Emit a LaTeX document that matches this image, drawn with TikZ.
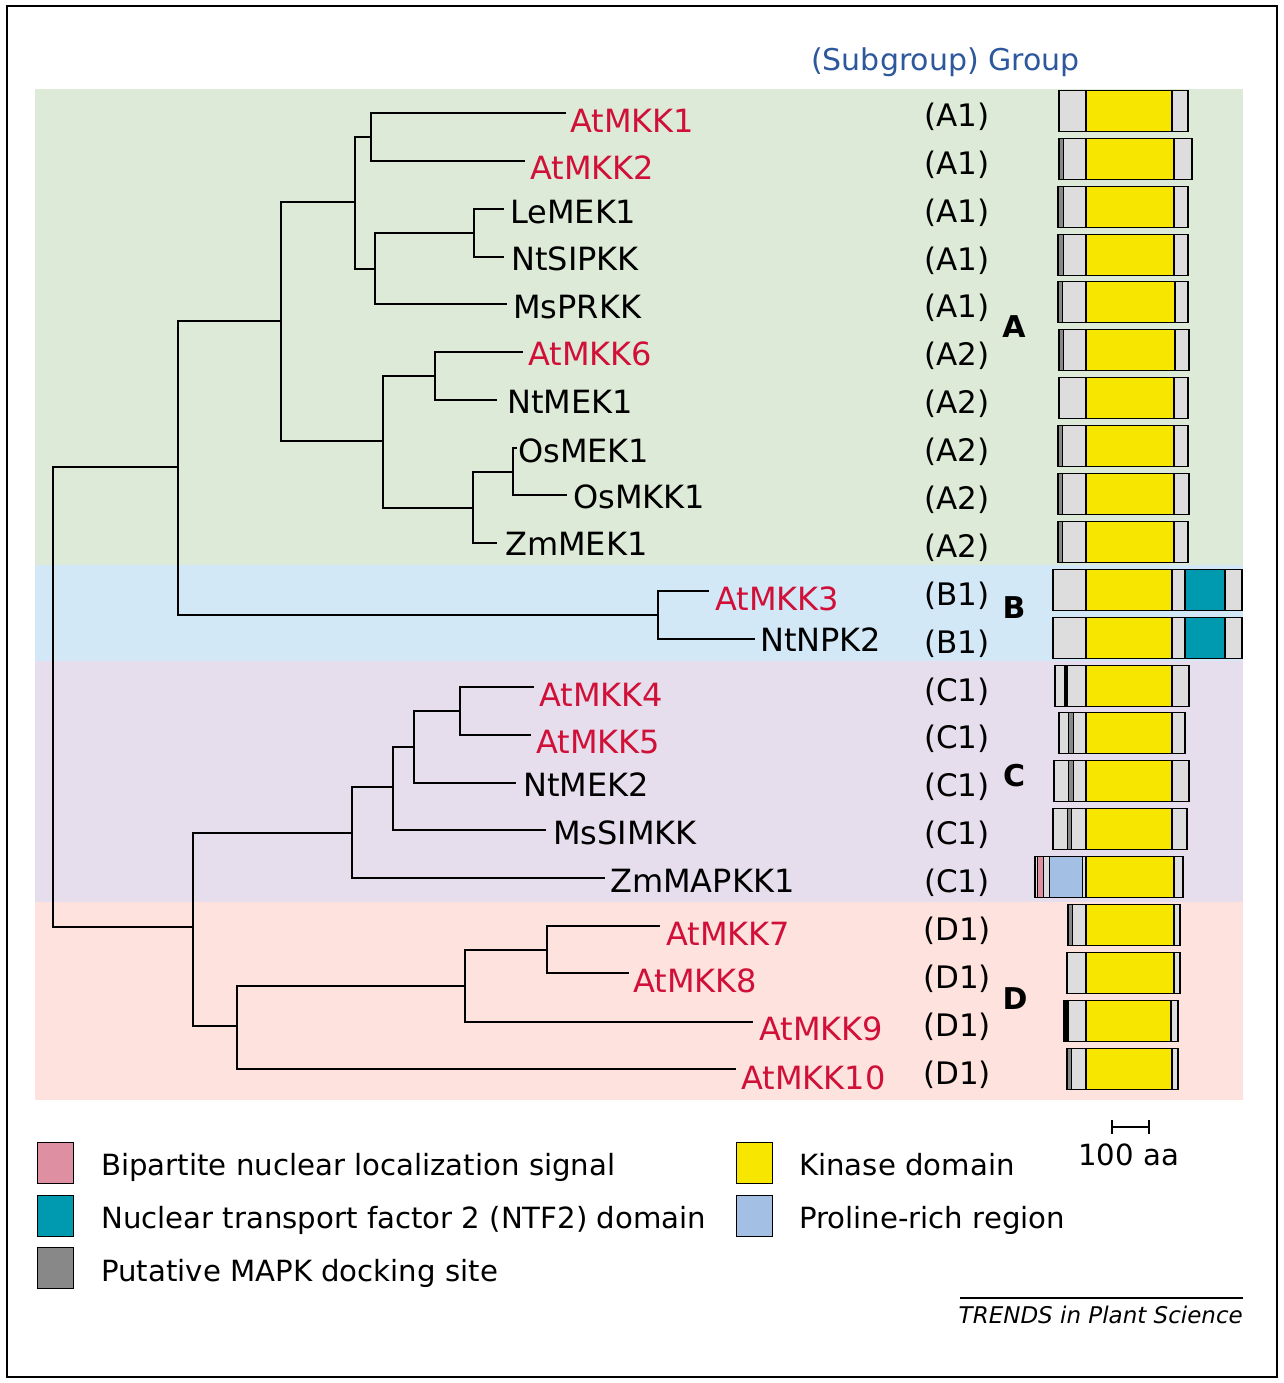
\documentclass[tikz,border=0pt]{standalone}
\usepackage{fontspec}
\setmainfont{DejaVu Sans}
\definecolor{bandA}{RGB}{221,234,215}
\definecolor{bandB}{RGB}{211,232,246}
\definecolor{bandC}{RGB}{230,222,236}
\definecolor{bandD}{RGB}{253,226,221}
\definecolor{atred}{RGB}{208,16,56}
\definecolor{hdrblue}{RGB}{45,88,156}
\definecolor{greyd}{RGB}{221,221,221}
\definecolor{kinase}{RGB}{247,230,0}
\definecolor{ntf}{RGB}{0,154,176}
\definecolor{dockc}{RGB}{136,136,136}
\definecolor{nlsc}{RGB}{222,143,162}
\definecolor{proc}{RGB}{163,191,227}
\newcommand\dombar[4]{%
  \draw[dom, fill=greyd] (#2,#1-20.5) rectangle (#3,#1+20.5);
  \draw[dom, fill=kinase] (1086,#1-20.5) rectangle (#4,#1+20.5);}
\newcommand\domrect[4]{%
  \draw[dom, fill=#4] (#2,#1-20.5) rectangle (#3,#1+20.5);}
\newcommand\dockrect[4]{%
  \draw[dockline, fill=#4] (#2,#1-20.5) rectangle (#3,#1+20.5);}
\begin{document}
\begin{tikzpicture}[x=1pt,y=-1pt,
  branch/.style={line width=2.2pt},
  leaf/.style={anchor=base west, inner sep=0pt, font=\fontsize{32}{38}\selectfont},
  atleaf/.style={leaf, text=atred},
  subg/.style={anchor=center, inner sep=0pt, font=\fontsize{31}{37}\selectfont},
  grp/.style={anchor=center, inner sep=0pt, font=\fontsize{30}{36}\selectfont\bfseries},
  dom/.style={draw=black, line width=1.5pt},
  dockline/.style={draw=black, line width=0.9pt},
  legbox/.style={draw=black, line width=1pt},
  legtext/.style={anchor=base west, inner sep=0pt, font=\fontsize{29.2}{35}\selectfont}]
\useasboundingbox (0,0) rectangle (1283,1383);
\fill[white] (0,0) rectangle (1283,1383);
\draw[line width=1.5pt] (7,6) rectangle (1277,1377);

% background bands
\fill[bandA] (35,89) rectangle (1243,565);
\fill[bandB] (35,565) rectangle (1243,661);
\fill[bandC] (35,661) rectangle (1243,902);
\fill[bandD] (35,902) rectangle (1243,1100);

% header
\node[anchor=base west, inner sep=0pt, text=hdrblue, font=\fontsize{30}{36}\selectfont] (hdr) at (811,71) {(Subgroup) Group};

% internal nodes of the tree
\coordinate (root) at (53,697);
\coordinate (AB) at (178,467);
\coordinate (A) at (281,321);
\coordinate (B) at (658,615);
\coordinate (A1) at (355,202);
\coordinate (A2) at (383,441);
\coordinate (n12) at (371,137);
\coordinate (nLM) at (375,269);
\coordinate (nLN) at (474,233);
\coordinate (n6N) at (435,376);
\coordinate (nOZ) at (473,508);
\coordinate (nOs) at (513,472);
\coordinate (CD) at (193,927);
\coordinate (C) at (352,833);
\coordinate (D) at (237,1026);
\coordinate (nC2) at (393,787);
\coordinate (nC3) at (414,747);
\coordinate (nC45) at (460,711);
\coordinate (nD1) at (465,986);
\coordinate (nD78) at (547,950);

% leaf ends
\coordinate (eAtMKK1) at (566,113);
\coordinate (eAtMKK2) at (525,161);
\coordinate (eLeMEK1) at (504,209);
\coordinate (eNtSIPKK) at (504,257);
\coordinate (eMsPRKK) at (507,304);
\coordinate (eAtMKK6) at (523,352);
\coordinate (eNtMEK1) at (497,400);
\coordinate (eOsMEK1) at (517,448);
\coordinate (eOsMKK1) at (567,495);
\coordinate (eZmMEK1) at (497,543);
\coordinate (eAtMKK3) at (709,591);
\coordinate (eNtNPK2) at (755,639);
\coordinate (eAtMKK4) at (534,687);
\coordinate (eAtMKK5) at (531,735);
\coordinate (eNtMEK2) at (516,783);
\coordinate (eMsSIMKK) at (546,830);
\coordinate (eZmMAPKK1) at (605,878);
\coordinate (eAtMKK7) at (660,926);
\coordinate (eAtMKK8) at (629,973);
\coordinate (eAtMKK9) at (753,1022);
\coordinate (eAtMKK10) at (736,1069);

% branches
\foreach \p/\c in {root/AB, root/CD, AB/A, AB/B, A/A1, A/A2, A1/n12, A1/nLM,
  n12/eAtMKK1, n12/eAtMKK2, nLM/nLN, nLM/eMsPRKK, nLN/eLeMEK1, nLN/eNtSIPKK,
  A2/n6N, A2/nOZ, n6N/eAtMKK6, n6N/eNtMEK1, nOZ/nOs, nOZ/eZmMEK1, nOs/eOsMEK1, nOs/eOsMKK1,
  B/eAtMKK3, B/eNtNPK2, CD/C, CD/D, C/nC2, C/eZmMAPKK1, nC2/nC3, nC2/eMsSIMKK,
  nC3/nC45, nC3/eNtMEK2, nC45/eAtMKK4, nC45/eAtMKK5, D/nD1, D/eAtMKK10,
  nD1/nD78, nD1/eAtMKK9, nD78/eAtMKK7, nD78/eAtMKK8}
  \draw[branch] (\p) |- (\c);

% leaf labels
\node[atleaf] (AtMKK1) at (570,133) {AtMKK1};
\node[atleaf] (AtMKK2) at (530,180) {AtMKK2};
\node[leaf] (LeMEK1) at (510,223) {LeMEK1};
\node[leaf] (NtSIPKK) at (511,270) {NtSIPKK};
\node[leaf] (MsPRKK) at (513,318) {MsPRKK};
\node[atleaf] (AtMKK6) at (528,365) {AtMKK6};
\node[leaf] (NtMEK1) at (507,413) {NtMEK1};
\node[leaf] (OsMEK1) at (518,462) {OsMEK1};
\node[leaf] (OsMKK1) at (573,508) {OsMKK1};
\node[leaf] (ZmMEK1) at (505,555) {ZmMEK1};
\node[atleaf] (AtMKK3) at (715,610) {AtMKK3};
\node[leaf] (NtNPK2) at (760,651) {NtNPK2};
\node[atleaf] (AtMKK4) at (539,706) {AtMKK4};
\node[atleaf] (AtMKK5) at (536,753) {AtMKK5};
\node[leaf] (NtMEK2) at (523,796) {NtMEK2};
\node[leaf] (MsSIMKK) at (553,844) {MsSIMKK};
\node[leaf] (ZmMAPKK1) at (610,892) {ZmMAPKK1};
\node[atleaf] (AtMKK7) at (666,945) {AtMKK7};
\node[atleaf] (AtMKK8) at (633,992) {AtMKK8};
\node[atleaf] (AtMKK9) at (759,1040) {AtMKK9};
\node[atleaf] (AtMKK10) at (741,1089) {AtMKK10};

% subgroup labels
\foreach \t/\y [count=\i] in {A1/117, A1/165, A1/213, A1/261, A1/308, A2/356, A2/404, A2/452,
  A2/500, A2/548, B1/596, B1/644, C1/692, C1/739, C1/787, C1/835, C1/883,
  D1/931, D1/979, D1/1027, D1/1075}
  \node[subg] (sg\i) at (957,\y) {(\t)};

% group letters
\node[grp] (gA) at (1014,327) {A};
\node[grp] (gB) at (1014,608) {B};
\node[grp] (gC) at (1014,776) {C};
\node[grp] (gD) at (1015,999) {D};

% domain bars
\dombar{111}{1059}{1188}{1172}
\dombar{159}{1059}{1192}{1174} \dockrect{159}{1059}{1063}{dockc}
\dombar{207}{1058}{1188}{1174} \dockrect{207}{1058}{1063}{dockc}
\dombar{255}{1058}{1188}{1174} \dockrect{255}{1058}{1063}{dockc}
\dombar{302}{1058}{1188}{1175} \dockrect{302}{1058}{1062}{dockc}
\dombar{350}{1059}{1189}{1175} \dockrect{350}{1059}{1063}{dockc}
\dombar{398}{1059}{1188}{1174}
\dombar{446}{1058}{1188}{1174} \dockrect{446}{1058}{1062}{dockc}
\dombar{494}{1058}{1189}{1174} \dockrect{494}{1058}{1062}{dockc}
\dombar{542}{1058}{1188}{1174} \dockrect{542}{1058}{1062}{dockc}
\dombar{590}{1053}{1242}{1172} \domrect{590}{1185}{1225}{ntf}
\dombar{638}{1053}{1242}{1172} \domrect{638}{1185}{1225}{ntf}
\dombar{686}{1055}{1189}{1172} \dockrect{686}{1064}{1067}{black}
\dombar{733}{1059}{1185}{1172} \dockrect{733}{1068}{1073}{dockc}
\dombar{781}{1054}{1189}{1172} \dockrect{781}{1068}{1073}{dockc}
\dombar{829}{1053}{1187}{1172} \dockrect{829}{1067}{1071}{dockc}
\dombar{877}{1035}{1183}{1174} \dockrect{877}{1037}{1043}{nlsc} \dockrect{877}{1049}{1082}{proc}
\dombar{925}{1068}{1180}{1174} \dockrect{925}{1068}{1072}{dockc}
\dombar{973}{1067}{1180}{1174}
\dombar{1021}{1064}{1178}{1171} \dockrect{1021}{1064}{1068}{black}
\dombar{1069}{1067}{1178}{1172} \dockrect{1069}{1067}{1071}{dockc}

% legend
\draw[legbox, fill=nlsc] (37,1142) rectangle (73,1183);
\draw[legbox, fill=ntf] (37,1195) rectangle (73,1236);
\draw[legbox, fill=dockc] (37,1247) rectangle (73,1288);
\draw[legbox, fill=kinase] (736,1142) rectangle (772,1183);
\draw[legbox, fill=proc] (736,1195) rectangle (772,1236);
\node[legtext] (l1) at (101,1175) {Bipartite nuclear localization signal};
\node[legtext] (l2) at (101,1228) {Nuclear transport factor 2 (NTF2) domain};
\node[legtext] (l3) at (101,1281) {Putative MAPK docking site};
\node[legtext] (l4) at (799,1175) {Kinase domain};
\node[legtext] (l5) at (799,1228) {Proline-rich region};

% scale bar
\coordinate (sbl) at (1112,1127);
\coordinate (sbr) at (1149,1127);
\draw[line width=1.5pt] (sbl) -- (sbr);
\draw[line width=1.5pt] ([yshift=7pt]sbl) -- ([yshift=-7pt]sbl);
\draw[line width=1.5pt] ([yshift=7pt]sbr) -- ([yshift=-7pt]sbr);
\node[legtext] (sbt) at (1078,1165) {100 aa};

% journal tag
\coordinate (tl) at (960,1298);
\coordinate (tr) at (1243,1298);
\draw[line width=1.2pt] (tl) -- (tr);
\node[anchor=base east, inner sep=0pt, font=\fontsize{23}{28}\selectfont\itshape] (trends) at (1243,1323) {TRENDS in Plant Science};
\end{tikzpicture}
\end{document}
